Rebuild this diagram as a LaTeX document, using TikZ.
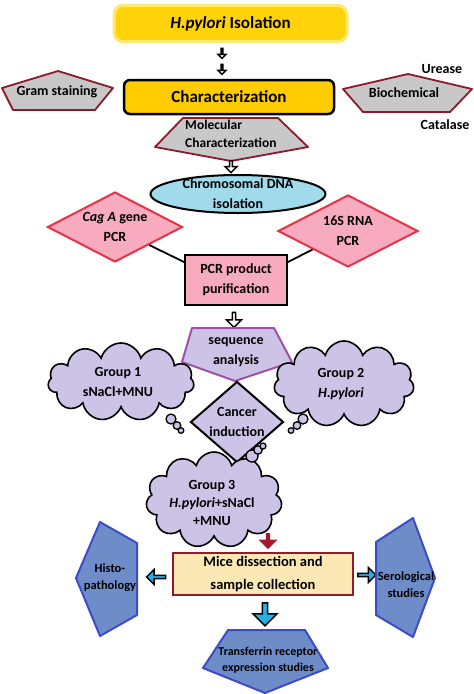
\documentclass[tikz,border=0pt]{standalone}
\usepackage{fontspec}
\setmainfont{Carlito}
\usetikzlibrary{shapes.geometric,shapes.symbols,shapes.arrows}

\definecolor{goldfill}{RGB}{255,210,10}
\definecolor{isoedge}{RGB}{255,232,110}
\definecolor{charfill}{RGB}{255,204,0}
\definecolor{pentgrey}{RGB}{200,200,200}
\definecolor{pentred}{RGB}{140,25,45}
\definecolor{skyfill}{RGB}{160,218,235}
\definecolor{pinkfill}{RGB}{248,170,190}
\definecolor{diared}{RGB}{232,50,70}
\definecolor{lavender}{RGB}{204,195,230}
\definecolor{seqedge}{RGB}{160,80,165}
\definecolor{micefill}{RGB}{252,232,180}
\definecolor{miceedge}{RGB}{150,25,40}
\definecolor{steel}{RGB}{110,140,200}
\definecolor{penblue}{RGB}{60,75,205}
\definecolor{cyanarr}{RGB}{40,175,230}
\definecolor{redarr}{RGB}{165,25,45}

\begin{document}
\begin{tikzpicture}[x=1pt,y=-1pt,
	every node/.style={font=\bfseries\fontsize{14}{20}\selectfont, align=center, inner sep=0pt},
	greypent/.style={draw=pentred, fill=pentgrey, line width=1.8pt, line join=round},
	bluepent/.style={draw=penblue, fill=steel, line width=2pt, line join=round},
	pinkdia/.style={diamond, draw=diared, fill=pinkfill, line width=2pt, aspect=1.9},
	group/.style={cloud, cloud puffs=11, cloud ignores aspect, draw=black, fill=lavender, line width=1.6pt},
	bubble/.style={draw=black, fill=lavender, line width=1.3pt},
	blockarr/.style={single arrow, draw=black, line width=1.4pt, single arrow head extend=2.5pt},
]
	\useasboundingbox (0,0) rectangle (474,694);

	% top of the chart
	\node[rounded corners=9pt, draw=isoedge, fill=goldfill, line width=3pt, minimum width=233pt,
		minimum height=36pt, font=\bfseries\fontsize{17}{20}\selectfont] (iso) at (230.5,23.5)
		{\textit{H.pylori} Isolation};
	\node[rounded corners=6pt, draw=black, fill=charfill, line width=2.5pt, minimum width=210pt,
		minimum height=34pt, font=\bfseries\fontsize{17}{20}\selectfont] (char) at (229,97) {Characterization};
	\foreach \yy/\nm in {53/a1, 69/a2}
		\node[blockarr, fill=white, minimum height=10pt, minimum width=8pt, rotate=-90] (\nm) at (222,\yy) {};

	\draw[greypent] (58,71) -- (113,88) -- (95,110) -- (13,110) -- (2,88) -- cycle;
	\node (gram) at (57,92) {Gram staining};
	\draw[greypent] (408,74) -- (472,89) -- (450,112) -- (363,112) -- (343,89) -- cycle;
	\node (bio) at (404,93) {Biochemical};
	\node (urease) at (442,69) {Urease};
	\node (catalase) at (445,125) {Catalase};

	\draw[greypent] (183,118) -- (278,118) -- (308,147) -- (231,161) -- (155,147) -- cycle;
	\node[align=left, font=\bfseries\fontsize{13.5}{18}\selectfont, anchor=west] (mol) at (185,134)
		{Molecular\\Characterization};
	\node[blockarr, fill=white, minimum height=12pt, minimum width=12pt, rotate=-90] (a3) at (231,166) {};

	\node[ellipse, draw=black, fill=skyfill, line width=2pt, minimum width=175pt, minimum height=38pt] (dna) at (238,194) {};
	\node at (dna) {Chromosomal DNA\\isolation};

	% PCR part
	\node[pinkdia, minimum width=135pt, minimum height=70pt] (cag) at (115,227) {\textit{Cag A} gene\\PCR};
	\node[pinkdia, minimum width=140pt, minimum height=72pt] (rna) at (348,231) {16S RNA\\PCR};
	\node[draw=black, fill=pinkfill, line width=2pt, minimum width=102pt, minimum height=50pt] (pcr) at (236,280)
		{PCR product\\purification};
	\draw[line width=1.8pt] (cag.south east) -- ([yshift=-8pt]pcr.north west);
	\draw[line width=1.8pt] (rna.south west) -- ([yshift=-8pt]pcr.north east);
	\node[blockarr, fill=white, minimum height=15pt, minimum width=15pt, rotate=-90] (a4) at (234,319) {};

	\draw[draw=seqedge, fill=lavender, line width=2pt, line join=round]
		(192,328) -- (274,328) -- (292,362) -- (235,381) -- (182,362) -- cycle;
	\node (seq) at (236,352) {sequence\\analysis};

	% groups
	\node[group, minimum width=146pt, minimum height=78pt] (g1) at (121,382) {};
	\node at (118,382) {Group 1\\sNaCl+MNU};
	\node[group, minimum width=140pt, minimum height=86pt] (g2) at (344,384) {};
	\node at (341,384) {Group 2\\\textit{H.pylori}};
	\node[diamond, draw=black, fill=lavender, line width=2pt, minimum width=93pt, minimum height=81pt, aspect=1.15]
		(cancer) at (237,422) {Cancer\\induction};
	\node[group, minimum width=136pt, minimum height=96pt] (g3) at (214,500) {};
	\node[font=\bfseries\fontsize{14}{18}\selectfont] at (212,503) {Group 3\\\textit{H.pylori}+sNaCl\\+MNU};
	\foreach \cx/\cy/\r in {171/419/5, 177/425.5/3.8, 181/430.5/2.8,
		303/419/5, 297/425.5/3.8, 291/430.5/2.8,
		252/456/6, 258/450/4.2, 263/446/3}
		\draw[bubble] (\cx,\cy) circle[radius=\r pt];

	% bottom part
	\node[blockarr, draw=none, fill=redarr, minimum height=16pt, minimum width=19pt, rotate=-90] (a5) at (268,540) {};
	\node[draw=miceedge, fill=micefill, line width=2.5pt, minimum width=180pt, minimum height=42pt,
		font=\bfseries\fontsize{14.5}{23}\selectfont] (mice) at (263,574) {Mice dissection and\\sample collection};
	\node[blockarr, fill=cyanarr, minimum height=19pt, minimum width=15pt, rotate=180] (a6) at (157,577) {};
	\node[blockarr, fill=cyanarr, minimum height=18pt, minimum width=15pt] (a7) at (366,575) {};
	\node[blockarr, fill=cyanarr, minimum height=23pt, minimum width=24pt, rotate=-90] (a8) at (265,613) {};

	\draw[bluepent] (100,522) -- (137,543) -- (137,615) -- (100,636) -- (76,578) -- cycle;
	\node[font=\bfseries\fontsize{12.5}{17}\selectfont] (histo) at (110,578) {Histo-\\pathology};
	\draw[bluepent] (413,518) -- (435,578) -- (413,637) -- (376,615) -- (376,542) -- cycle;
	\node[font=\bfseries\fontsize{12.5}{17}\selectfont] (sero) at (406,585) {Serological\\studies};
	\draw[bluepent] (228,630) -- (305,630) -- (328,668) -- (265,693) -- (203,668) -- cycle;
	\node[font=\bfseries\fontsize{12}{16}\selectfont] (trans) at (268,660) {Transferrin receptor\\expression studies};
\end{tikzpicture}
\end{document}
